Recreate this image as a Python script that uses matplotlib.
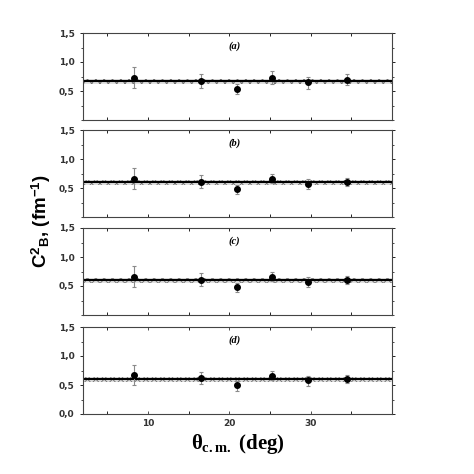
import matplotlib
matplotlib.use("Agg")
import matplotlib.pyplot as plt
from matplotlib.ticker import MultipleLocator, FuncFormatter, FixedLocator

theta = [8.3, 16.5, 20.9, 25.2, 29.7, 34.5]
panels = ["(a)", "(b)", "(c)", "(d)"]
c2_a = [0.73, 0.67, 0.54, 0.73, 0.65, 0.69]
lo_a = [0.18, 0.11, 0.09, 0.11, 0.12, 0.09]
hi_a = [0.19, 0.12, 0.08, 0.11, 0.10, 0.11]
c2_b = [0.66, 0.61, 0.49, 0.66, 0.57, 0.60]
lo_b = [0.17, 0.11, 0.10, 0.08, 0.09, 0.07]
hi_b = [0.18, 0.11, 0.07, 0.09, 0.08, 0.08]
c2_c = [0.66, 0.61, 0.49, 0.66, 0.57, 0.60]
lo_c = [0.17, 0.11, 0.10, 0.08, 0.09, 0.07]
hi_c = [0.18, 0.11, 0.07, 0.09, 0.08, 0.08]
c2_d = [0.67, 0.62, 0.50, 0.66, 0.58, 0.60]
lo_d = [0.17, 0.11, 0.10, 0.08, 0.09, 0.07]
hi_d = [0.18, 0.11, 0.07, 0.09, 0.08, 0.08]
mean = [0.665, 0.595, 0.595, 0.60]
band = [0.04, 0.04, 0.04, 0.04]
xticks_major = [10, 20, 30]

series = [(c2_a, lo_a, hi_a), (c2_b, lo_b, hi_b), (c2_c, lo_c, hi_c), (c2_d, lo_d, hi_d)]

plt.rcParams["mathtext.fontset"] = "custom"
plt.rcParams["mathtext.rm"] = "Liberation Serif:bold"
plt.rcParams["mathtext.it"] = "Liberation Serif:bold"
plt.rcParams["mathtext.bf"] = "Liberation Serif:bold"
plt.rcParams["mathtext.sf"] = "Liberation Sans:bold"
plt.rcParams["hatch.linewidth"] = 0.6

fig = plt.figure(figsize=(4.74, 4.74), dpi=100)
W = 474.0
left, right = 83 / W, 392 / W
tops = [33, 130, 228, 327]
height = 87

fmt = FuncFormatter(lambda v, p: f"{v:.1f}".replace(".", ","))

for i, (ys, lo, hi) in enumerate(series):
    t = tops[i]
    ax = fig.add_axes([left, 1 - (t + height) / W, right - left, height / W])
    ax.set_xlim(2, 40)
    ax.set_ylim(0, 1.5)
    ax.fill_between([2, 40], mean[i] - band[i], mean[i] + band[i],
                    facecolor="#e0e0e0", edgecolor="#707070", hatch="xxxx",
                    linewidth=0, zorder=1)
    ax.axhline(mean[i], color="black", lw=1.5, zorder=2)
    ax.errorbar(theta, ys, yerr=[lo, hi], fmt="o", color="black", ms=4,
                ecolor="#8a8a8a", elinewidth=0.8, capsize=1.5, capthick=0.8, zorder=3)
    ax.text(20.6, 1.27, panels[i], ha="center", va="center", fontsize=7.5,
            fontstyle="italic", fontweight="bold", family="Liberation Serif")
    ax.xaxis.set_major_locator(FixedLocator(xticks_major))
    ax.xaxis.set_minor_locator(MultipleLocator(5))
    ax.yaxis.set_minor_locator(MultipleLocator(0.25))
    ax.yaxis.set_major_formatter(fmt)
    ax.tick_params(axis="x", which="both", direction="in", top=True, length=2.5, width=0.6)
    ax.tick_params(axis="y", which="major", direction="out", length=2.5, width=0.6,
                   labelsize=6.5)
    ax.tick_params(axis="y", which="minor", direction="out", length=1.5, width=0.5)
    ax.tick_params(axis="y", which="both", right=True)
    for s in ax.spines.values():
        s.set_linewidth(0.8)
        s.set_color("#444444")
    if i < 3:
        ax.set_yticks([0.5, 1.0, 1.5])
        ax.tick_params(axis="x", labelbottom=False)
    else:
        ax.set_yticks([0.0, 0.5, 1.0, 1.5])
        ax.tick_params(axis="x", labelsize=6.5, colors="#333333")
        for lab in ax.get_xticklabels():
            lab.set_fontweight("bold")
        ax.set_xlabel(r"$\theta_{\mathrm{c.m.}}$ (deg)", fontsize=15, fontweight="bold",
                      family="Liberation Serif", labelpad=3)
    for lab in ax.get_yticklabels():
        lab.set_fontweight("bold")
        lab.set_color("#333333")

fig.text(41 / W, 1 - 221 / W, r"C$^{\mathsf{2}}$$_{\mathsf{B}}$, (fm$^{\mathsf{-1}}$)",
         rotation=90, ha="center", va="center", fontsize=13.5, fontweight="bold",
         family="Liberation Sans")

fig.savefig("out.png", dpi=100)
